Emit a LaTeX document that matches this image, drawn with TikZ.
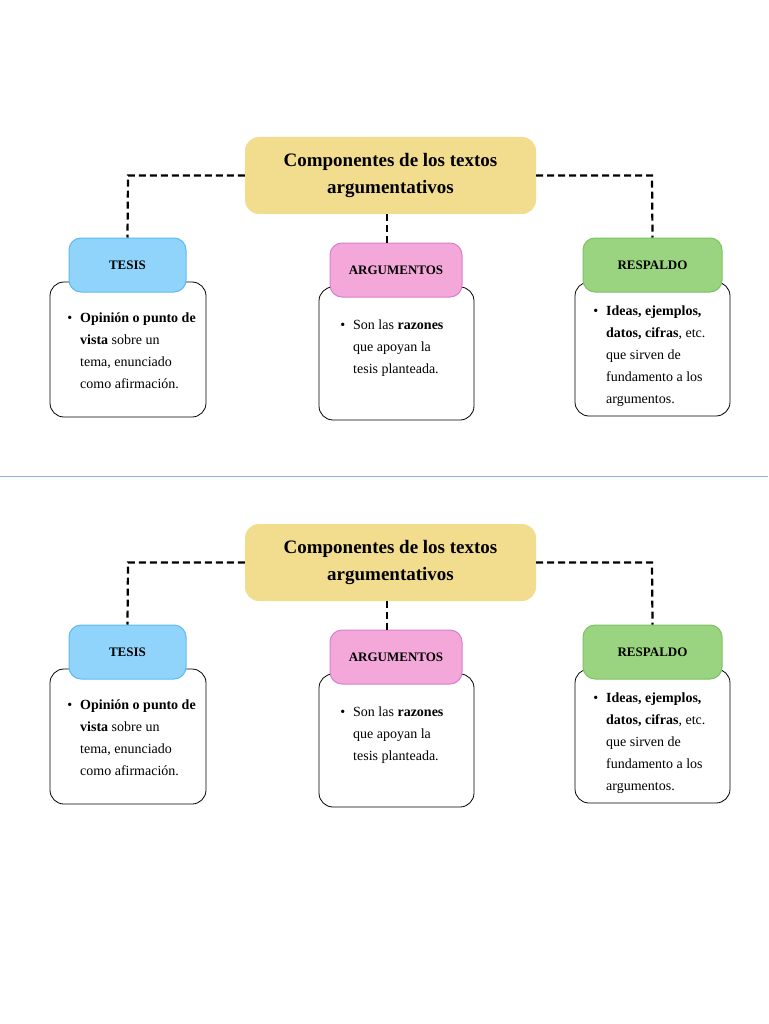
\documentclass[tikz,border=0pt]{standalone}
\usepackage{fontspec}
\setmainfont{Liberation Serif}
\definecolor{ttl}{HTML}{F2DC8E}
\definecolor{bl}{HTML}{90D4FC}
\definecolor{blS}{HTML}{5DBBF2}
\definecolor{pk}{HTML}{F4A8D9}
\definecolor{pkS}{HTML}{D97DD2}
\definecolor{gr}{HTML}{9AD480}
\definecolor{grS}{HTML}{7CC262}
\definecolor{sep}{HTML}{8FB3E0}
\tikzset{
 titlebox/.style={fill=ttl,rounded corners=14pt,minimum width=291pt,minimum height=77pt,align=center,font=\fontsize{19}{27}\selectfont\bfseries},
 labelbox/.style={rounded corners=12pt,line width=1pt,minimum height=54pt,font=\fontsize{13}{15}\selectfont\bfseries},
 bodybox/.style={draw=black,fill=white,rounded corners=14pt,line width=0.8pt},
 bodytext/.style={anchor=north west,align=left,inner sep=0pt,font=\fontsize{14}{22}\selectfont},
 conn/.style={dashed,dash pattern=on 7pt off 4pt,line width=2.2pt}
}
\newcommand\bul{\llap{\textbullet\hspace{8pt}}}
\newcommand\diag[2]{%
\begin{scope}[yshift=#2]
 \node[titlebox] (#1t) at (390.5,175.5) {Componentes de los textos\\argumentativos};
 \node[bodybox,minimum width=156pt,minimum height=135pt] (#1b1) at (128,349.5) {};
 \node[bodybox,minimum width=155pt,minimum height=133pt] (#1b2) at (396.5,353.5) {};
 \node[bodybox,minimum width=155pt,minimum height=134pt] (#1b3) at (652.5,349) {};
 \node[labelbox,fill=bl,draw=blS,minimum width=117pt] (#1l1) at (127.5,265) {TESIS};
 \node[labelbox,fill=pk,draw=pkS,minimum width=132pt] (#1l2) at (396,270) {ARGUMENTOS};
 \node[labelbox,fill=gr,draw=grS,minimum width=139pt] (#1l3) at (652.5,265) {RESPALDO};
 \coordinate (#1cl) at (128,175.5);
 \coordinate (#1cr) at (652,175.5);
 \draw[conn] (#1t.west) -- (#1cl) -- (#1l1.north);
 \draw[conn] (#1t.east) -- (#1cr) -- (#1l3.north);
 \draw[conn] (#1t.south -| 387,0) -- (#1l2.north -| 387,0);
 \node[bodytext] (#1x1) at (80,313) {\bul\textbf{Opinión o punto de}\\\textbf{vista} sobre un\\tema, enunciado\\como afirmación.};
 \node[bodytext] (#1x2) at (353,320) {\bul Son las \textbf{razones}\\que apoyan la\\tesis planteada.};
 \node[bodytext] (#1x3) at (606,306) {\bul\textbf{Ideas, ejemplos,}\\\textbf{datos, cifras}, etc.\\que sirven de\\fundamento a los\\argumentos.};
\end{scope}}
\begin{document}
\begin{tikzpicture}[x=1pt,y=-1pt]
\useasboundingbox[fill=white] (0,0) rectangle (768,1024);
\diag{a}{0pt}
\draw[sep,line width=1pt] (0,476.5) -- (768,476.5);
\diag{b}{-387pt}
\end{tikzpicture}
\end{document}
